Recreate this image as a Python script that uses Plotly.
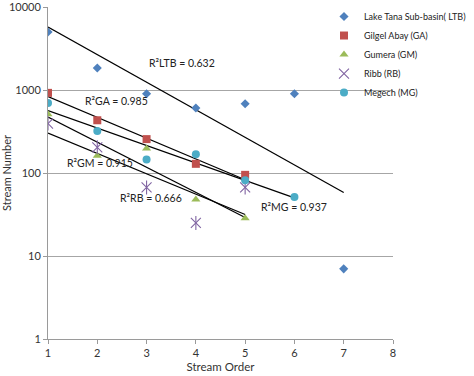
import numpy as np
import plotly.graph_objects as go

# Stream order / number data per sub-basin
ltb_order = [1, 2, 3, 4, 5, 6, 7]
ltb_num = [5000, 1840, 900, 607, 682, 900, 7]
ga_order = [1, 2, 3, 4, 5]
ga_num = [924, 432, 256, 129, 95]
gm_order = [1, 2, 3, 4, 5]
gm_num = [510, 161, 197, 48, 28.5]
rb_order = [1, 2, 3, 4, 5]
rb_num = [394, 204, 67, 25, 67]
mg_order = [1, 2, 3, 4, 5, 6]
mg_num = [696, 320, 145, 168, 82, 51.5]

names = ["Lake Tana Sub-basin( LTB)", "Gilgel Abay (GA)", "Gumera (GM)", "Ribb (RB)", "Megech (MG)"]
r2_labels = ["R²LTB = 0.632", "R²GA = 0.985", "R²GM = 0.915", "R²RB = 0.666", "R²MG = 0.937"]
x_ticks = [1, 2, 3, 4, 5, 6, 7, 8]
y_ticks = [1, 10, 100, 1000, 10000]

series = [
    (ltb_order, ltb_num, "#4F81BD", "diamond", 7),
    (ga_order, ga_num, "#C0504D", "square", 8),
    (gm_order, gm_num, "#9BBB59", "triangle-up", 8),
    (rb_order, rb_num, "#8064A2", "x-thin-open", 8),
    (mg_order, mg_num, "#4BACC6", "circle", 8),
]

FONT = "Lato, 'Open Sans', sans-serif"
fig = go.Figure()

# exponential trend lines (linear fit in log space)
for xs, ys, *_ in series:
    xa = np.array(xs, dtype=float)
    b, a = np.polyfit(xa, np.log10(ys), 1)
    xl = np.array([xa.min(), xa.max()])
    fig.add_trace(go.Scatter(x=xl, y=10 ** (a + b * xl), mode="lines",
                             line=dict(color="black", width=1.2),
                             showlegend=False, hoverinfo="skip"))

for (xs, ys, color, sym, size), name in zip(series, names):
    if sym == "x-thin-open":
        fig.add_trace(go.Scatter(x=xs, y=ys, mode="markers", showlegend=False,
                                 marker=dict(symbol="line-ns-open", size=size + 2, color=color,
                                             line=dict(color=color, width=1.1))))
        fig.add_trace(go.Scatter(x=xs, y=ys, mode="markers", name=name,
                                 marker=dict(symbol=sym, size=size + 2, color=color,
                                             line=dict(color=color, width=1.1))))
    else:
        fig.add_trace(go.Scatter(x=xs, y=ys, mode="markers", name=name,
                                 marker=dict(symbol=sym, size=size, color=color)))

ann_pos = [(147, 63), (83, 101), (65, 163), (118, 198), (259, 207)]
for txt, (px, py) in zip(r2_labels, ann_pos):
    fig.add_annotation(text=txt, xref="paper", yref="paper",
                       x=(px - 48) / 345, y=1 - (py - 7) / 332,
                       xanchor="left", yanchor="middle", showarrow=False,
                       font=dict(family=FONT, size=10.5, color="#222"))

fig.update_layout(
    width=474, height=376,
    margin=dict(l=48, r=81, t=7, b=37, autoexpand=False),
    paper_bgcolor="white", plot_bgcolor="white",
    font=dict(family=FONT, size=11, color="#333"),
    legend=dict(x=0.80, y=1.015, xanchor="left", yanchor="top",
                bgcolor="rgba(0,0,0,0)", font=dict(family=FONT, size=9, color="#222"),
                itemwidth=30, tracegroupgap=0),
    xaxis=dict(range=[1, 8], tickvals=x_ticks, showgrid=False, zeroline=False, automargin=False,
               showline=True, linecolor="#9a9a9a", ticks="outside", ticklen=4,
               tickcolor="#9a9a9a", tickfont=dict(size=11, color="#333"),
               title=dict(text="Stream Order", font=dict(size=11.5, color="#333"), standoff=4)),
    yaxis=dict(type="log", range=[0, 4.0001], tickvals=y_ticks, ticktext=[str(v) for v in y_ticks],
               showgrid=True, gridcolor="#a6a6a6", zeroline=False, automargin=False,
               ticklabeloverflow="allow",
               showline=True, linecolor="#9a9a9a", ticks="outside", ticklen=4,
               tickcolor="#9a9a9a", tickfont=dict(size=11, color="#333"),
               title=dict(text="Stream Number", font=dict(size=11, color="#333"), standoff=4)),
)

fig.write_html("out.html", config={"displayModeBar": False},
               post_script="document.body.style.margin='0';")
